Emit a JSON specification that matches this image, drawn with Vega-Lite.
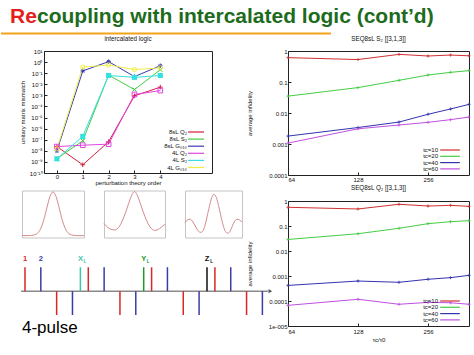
{
  "$schema": "https://vega.github.io/schema/vega-lite/v6.json",
  "background": "white",
  "padding": {"left": 0, "top": 6, "right": 0, "bottom": 0},
  "config": {
    "font": "Liberation Sans",
    "view": {"stroke": null},
    "axis": {"labelFontSize": 6, "titleFontSize": 6, "titleFontWeight": "normal", "labelColor": "#111", "titleColor": "#111", "grid": false, "domain": false, "tickColor": "#222", "tickSize": -3, "labelPadding": 2},
    "title": {"fontSize": 6.3, "fontWeight": "normal", "color": "#111"}
  },
  "datasets": {
    "left": [
      {"order": 0, "v": 2.4e-8, "s": "8sL Q₂"}, {"order": 1, "v": 5.5e-10, "s": "8sL Q₂"}, {"order": 2, "v": 6.6e-8, "s": "8sL Q₂"}, {"order": 3, "v": 9e-4, "s": "8sL Q₂"}, {"order": 4, "v": 5.5e-3, "s": "8sL Q₂"},
      {"order": 0, "v": 2e-9, "s": "8sL S₂"}, {"order": 1, "v": 8e-8, "s": "8sL S₂"}, {"order": 2, "v": 0.068, "s": "8sL S₂"}, {"order": 3, "v": 3.3e-3, "s": "8sL S₂"}, {"order": 4, "v": 0.2, "s": "8sL S₂"},
      {"order": 0, "v": 1e-8, "s": "8sL G₀₁₀"}, {"order": 1, "v": 0.16, "s": "8sL G₀₁₀"}, {"order": 2, "v": 1.1, "s": "8sL G₀₁₀"}, {"order": 3, "v": 0.049, "s": "8sL G₀₁₀"}, {"order": 4, "v": 0.47, "s": "8sL G₀₁₀"},
      {"order": 0, "v": 2.4e-8, "s": "4L Q₂"}, {"order": 1, "v": 3.2e-8, "s": "4L Q₂"}, {"order": 2, "v": 4e-8, "s": "4L Q₂"}, {"order": 3, "v": 1.2e-3, "s": "4L Q₂"}, {"order": 4, "v": 2.7e-3, "s": "4L Q₂"},
      {"order": 0, "v": 1.9e-9, "s": "4L S₂"}, {"order": 1, "v": 2e-7, "s": "4L S₂"}, {"order": 2, "v": 0.062, "s": "4L S₂"}, {"order": 3, "v": 0.042, "s": "4L S₂"}, {"order": 4, "v": 0.062, "s": "4L S₂"},
      {"order": 0, "v": 1.5e-8, "s": "4L G₀₁₀"}, {"order": 1, "v": 0.35, "s": "4L G₀₁₀"}, {"order": 2, "v": 0.55, "s": "4L G₀₁₀"}, {"order": 3, "v": 0.21, "s": "4L G₀₁₀"}, {"order": 4, "v": 0.3, "s": "4L G₀₁₀"}
    ],
    "top": [
      {"n": 64, "v": 0.61, "tc": "tc=10"}, {"n": 128, "v": 0.53, "tc": "tc=10"}, {"n": 192, "v": 0.78, "tc": "tc=10"}, {"n": 256, "v": 0.69, "tc": "tc=10"}, {"n": 320, "v": 0.74, "tc": "tc=10"}, {"n": 384, "v": 0.70, "tc": "tc=10"},
      {"n": 64, "v": 0.035, "tc": "tc=20"}, {"n": 128, "v": 0.066, "tc": "tc=20"}, {"n": 192, "v": 0.113, "tc": "tc=20"}, {"n": 256, "v": 0.168, "tc": "tc=20"}, {"n": 320, "v": 0.205, "tc": "tc=20"}, {"n": 384, "v": 0.232, "tc": "tc=20"},
      {"n": 64, "v": 0.0018, "tc": "tc=40"}, {"n": 128, "v": 0.0034, "tc": "tc=40"}, {"n": 192, "v": 0.0051, "tc": "tc=40"}, {"n": 256, "v": 0.0091, "tc": "tc=40"}, {"n": 320, "v": 0.0135, "tc": "tc=40"}, {"n": 384, "v": 0.019, "tc": "tc=40"},
      {"n": 64, "v": 0.00107, "tc": "tc=60"}, {"n": 128, "v": 0.0031, "tc": "tc=60"}, {"n": 192, "v": 0.0041, "tc": "tc=60"}, {"n": 256, "v": 0.005, "tc": "tc=60"}, {"n": 320, "v": 0.0061, "tc": "tc=60"}, {"n": 384, "v": 0.0074, "tc": "tc=60"}
    ],
    "bottom": [
      {"n": 64, "v": 0.56, "tc": "tc=10"}, {"n": 128, "v": 0.48, "tc": "tc=10"}, {"n": 192, "v": 0.74, "tc": "tc=10"}, {"n": 256, "v": 0.63, "tc": "tc=10"}, {"n": 320, "v": 0.67, "tc": "tc=10"}, {"n": 384, "v": 0.61, "tc": "tc=10"},
      {"n": 64, "v": 0.029, "tc": "tc=20"}, {"n": 128, "v": 0.049, "tc": "tc=20"}, {"n": 192, "v": 0.081, "tc": "tc=20"}, {"n": 256, "v": 0.124, "tc": "tc=20"}, {"n": 320, "v": 0.149, "tc": "tc=20"}, {"n": 384, "v": 0.163, "tc": "tc=20"},
      {"n": 64, "v": 0.00042, "tc": "tc=40"}, {"n": 128, "v": 0.00063, "tc": "tc=40"}, {"n": 192, "v": 0.00056, "tc": "tc=40"}, {"n": 256, "v": 0.00074, "tc": "tc=40"}, {"n": 320, "v": 0.00086, "tc": "tc=40"}, {"n": 384, "v": 0.00106, "tc": "tc=40"},
      {"n": 64, "v": 0.000067, "tc": "tc=60"}, {"n": 128, "v": 0.000117, "tc": "tc=60"}, {"n": 192, "v": 0.000074, "tc": "tc=60"}, {"n": 256, "v": 0.000088, "tc": "tc=60"}, {"n": 320, "v": 0.000085, "tc": "tc=60"}, {"n": 384, "v": 0.000074, "tc": "tc=60"}
    ],
    "shapes": [
      {"p": 1, "x": 0, "y": 0.04}, {"p": 1, "x": 0.1, "y": 0.04}, {"p": 1, "x": 0.2, "y": 0.054}, {"p": 1, "x": 0.25, "y": 0.091}, {"p": 1, "x": 0.3, "y": 0.186}, {"p": 1, "x": 0.35, "y": 0.368}, {"p": 1, "x": 0.4, "y": 0.626}, {"p": 1, "x": 0.45, "y": 0.868}, {"p": 1, "x": 0.5, "y": 0.97}, {"p": 1, "x": 0.55, "y": 0.868}, {"p": 1, "x": 0.6, "y": 0.626}, {"p": 1, "x": 0.65, "y": 0.368}, {"p": 1, "x": 0.7, "y": 0.186}, {"p": 1, "x": 0.75, "y": 0.091}, {"p": 1, "x": 0.8, "y": 0.054}, {"p": 1, "x": 0.9, "y": 0.04}, {"p": 1, "x": 1, "y": 0.04},
      {"p": 2, "x": 0, "y": 0.3}, {"p": 2, "x": 0.04, "y": 0.24}, {"p": 2, "x": 0.09, "y": 0.19}, {"p": 2, "x": 0.17, "y": 0.16}, {"p": 2, "x": 0.23, "y": 0.2}, {"p": 2, "x": 0.28, "y": 0.3}, {"p": 2, "x": 0.33, "y": 0.45}, {"p": 2, "x": 0.38, "y": 0.63}, {"p": 2, "x": 0.43, "y": 0.82}, {"p": 2, "x": 0.47, "y": 0.94}, {"p": 2, "x": 0.5, "y": 0.98}, {"p": 2, "x": 0.53, "y": 0.94}, {"p": 2, "x": 0.57, "y": 0.82}, {"p": 2, "x": 0.62, "y": 0.63}, {"p": 2, "x": 0.67, "y": 0.45}, {"p": 2, "x": 0.72, "y": 0.3}, {"p": 2, "x": 0.77, "y": 0.2}, {"p": 2, "x": 0.83, "y": 0.15}, {"p": 2, "x": 0.91, "y": 0.19}, {"p": 2, "x": 0.96, "y": 0.24}, {"p": 2, "x": 1, "y": 0.28},
      {"p": 3, "x": 0, "y": 0.32}, {"p": 3, "x": 0.04, "y": 0.37}, {"p": 3, "x": 0.09, "y": 0.39}, {"p": 3, "x": 0.14, "y": 0.33}, {"p": 3, "x": 0.2, "y": 0.2}, {"p": 3, "x": 0.25, "y": 0.12}, {"p": 3, "x": 0.28, "y": 0.11}, {"p": 3, "x": 0.32, "y": 0.15}, {"p": 3, "x": 0.37, "y": 0.35}, {"p": 3, "x": 0.42, "y": 0.62}, {"p": 3, "x": 0.47, "y": 0.85}, {"p": 3, "x": 0.51, "y": 0.92}, {"p": 3, "x": 0.55, "y": 0.85}, {"p": 3, "x": 0.6, "y": 0.62}, {"p": 3, "x": 0.65, "y": 0.35}, {"p": 3, "x": 0.7, "y": 0.15}, {"p": 3, "x": 0.75, "y": 0.09}, {"p": 3, "x": 0.79, "y": 0.13}, {"p": 3, "x": 0.85, "y": 0.3}, {"p": 3, "x": 0.91, "y": 0.39}, {"p": 3, "x": 0.96, "y": 0.37}, {"p": 3, "x": 1, "y": 0.33}
    ],
    "pulses": [
      {"t": 0, "lo": 0, "hi": 1, "c": "r", "lab": "1"}, {"t": 1, "lo": 0, "hi": 1, "c": "b", "lab": "2"}, {"t": 2, "lo": -1, "hi": 0, "c": "r"}, {"t": 3, "lo": -1, "hi": 0, "c": "b"},
      {"t": 3.5, "lo": 0, "hi": 1, "c": "x", "lab": "X", "sub": "L"},
      {"t": 4, "lo": 0, "hi": 1, "c": "r"}, {"t": 5, "lo": 0, "hi": 1, "c": "b"}, {"t": 6, "lo": -1, "hi": 0, "c": "r"}, {"t": 7, "lo": -1, "hi": 0, "c": "b"},
      {"t": 7.5, "lo": 0, "hi": 1, "c": "y", "lab": "Y", "sub": "L"},
      {"t": 8, "lo": 0, "hi": 1, "c": "r"}, {"t": 9, "lo": 0, "hi": 1, "c": "b"}, {"t": 10, "lo": -1, "hi": 0, "c": "r"}, {"t": 11, "lo": -1, "hi": 0, "c": "b"},
      {"t": 11.5, "lo": 0, "hi": 1, "c": "z", "lab": "Z", "sub": "L"},
      {"t": 12, "lo": 0, "hi": 1, "c": "r"}, {"t": 13, "lo": 0, "hi": 1, "c": "b"}, {"t": 14, "lo": -1, "hi": 0, "c": "r"}, {"t": 15, "lo": -1, "hi": 0, "c": "b"}
    ]
  },
  "spacing": 0,
  "resolve": {"scale": {"color": "independent"}, "legend": {"color": "independent"}},
  "vconcat": [
    {
      "spacing": 0,
      "hconcat": [
        {"width": 9, "height": 1, "data": {"values": []}, "mark": "point", "encoding": {}},
        {"width": 1, "height": 1, "data": {"values": []}, "mark": "point", "encoding": {},
         "title": {"text": "Re", "color": "#e3201b", "fontSize": 21, "fontWeight": "bold", "anchor": "start", "frame": "group", "offset": 4}},
        {"width": 1, "height": 1, "data": {"values": []}, "mark": "point", "encoding": {},
         "title": {"text": "coupling with intercalated logic (cont’d)", "color": "#1d6b1d", "fontSize": 21, "fontWeight": "bold", "anchor": "start", "frame": "group", "offset": 4}}
      ]
    },
    {
      "width": 330, "height": 1,
      "data": {"values": [{"v": 0}]},
      "mark": {"type": "rule", "color": "#f2a31b", "strokeWidth": 2},
      "encoding": {"y": {"field": "v", "type": "quantitative", "axis": null}}
    },
    {
      "bounds": "flush",
      "spacing": 287,
      "resolve": {"scale": {"color": "independent"}, "legend": {"color": "independent"}},
      "hconcat": [
        {
          "spacing": 2.5,
          "resolve": {"scale": {"color": "independent"}, "legend": {"color": "independent"}},
          "vconcat": [
            {
              "spacing": 0,
              "resolve": {"scale": {"color": "independent"}, "legend": {"color": "independent"}},
              "hconcat": [
                {"width": 17, "height": 1, "data": {"values": []}, "mark": "point", "encoding": {}},
                {
                  "width": 168, "height": 122,
                  "data": {"name": "left"},
                  "title": {"text": "intercalated logic", "offset": 6},
                  "view": {"stroke": "#222"},
                  "encoding": {
                    "x": {"field": "order", "type": "quantitative", "scale": {"domain": [-0.5, 6], "nice": false, "zero": false},
                          "axis": {"values": [0, 1, 2, 3, 4], "format": "d", "title": "perturbation theory order", "labelPadding": 3, "titlePadding": 0}},
                    "y": {"field": "v", "type": "quantitative", "scale": {"type": "log", "domain": [1e-10, 10]},
                          "axis": {"values": [1e-10, 1e-9, 1e-8, 1e-7, 1e-6, 1e-5, 1e-4, 1e-3, 1e-2, 0.1, 1, 10],
                                   "labelExpr": "'10' + ['¹','⁰','⁻¹','⁻²','⁻³','⁻⁴','⁻⁵','⁻⁶','⁻⁷','⁻⁸','⁻⁹','⁻¹⁰'][1 - round(log(datum.value) / LN10)]",
                                   "title": "unitary matrix mismatch", "titlePadding": 4, "labelPadding": 5}},
                    "color": {"field": "s", "type": "nominal",
                              "scale": {"domain": ["8sL Q₂", "8sL S₂", "8sL G₀₁₀", "4L Q₂", "4L S₂", "4L G₀₁₀"], "range": ["#d42040", "#44cc44", "#3a3ab8", "#e045e0", "#35e0e0", "#eeee44"]},
                              "legend": {"title": null, "orient": "none", "legendX": 149, "legendY": 78, "padding": 0, "symbolType": "M-3.6,0L3.6,0", "symbolSize": 20, "symbolStrokeWidth": 1.2, "labelAlign": "right", "labelOffset": -12, "labelFontSize": 6, "rowPadding": 1.1, "labelColor": "#111"}}
                  },
                  "layer": [
                    {"mark": {"type": "line", "strokeWidth": 1}},
                    {"transform": [{"filter": "datum.s === '8sL Q₂'"}], "mark": {"type": "point", "shape": "M-1,0L1,0M0,-1L0,1", "filled": false, "strokeWidth": 1, "size": 22, "opacity": 1}},
                    {"transform": [{"filter": "datum.s === '8sL S₂'"}], "mark": {"type": "point", "shape": "M-1,-1L1,1M-1,1L1,-1", "filled": false, "strokeWidth": 1, "size": 16, "opacity": 1}},
                    {"transform": [{"filter": "datum.s === '8sL G₀₁₀'"}], "mark": {"type": "point", "shape": "M-1,0L1,0M0,-1L0,1M-0.7,-0.7L0.7,0.7M-0.7,0.7L0.7,-0.7", "filled": false, "strokeWidth": 1, "size": 20, "opacity": 1}},
                    {"transform": [{"filter": "datum.s === '4L Q₂'"}], "mark": {"type": "point", "shape": "square", "filled": false, "strokeWidth": 1, "size": 22, "opacity": 1}},
                    {"transform": [{"filter": "datum.s === '4L S₂'"}], "mark": {"type": "point", "shape": "square", "filled": true, "size": 26, "opacity": 1}},
                    {"transform": [{"filter": "datum.s === '4L G₀₁₀'"}], "mark": {"type": "point", "shape": "circle", "filled": false, "strokeWidth": 1, "size": 18, "opacity": 1}}
                  ]
                }
              ]
            },
            {
              "spacing": 20,
              "bounds": "flush",
              "hconcat": [
                {"width": 1, "height": 1, "data": {"values": []}, "mark": "point", "encoding": {}},
                {
                  "width": 62, "height": 47, "data": {"name": "shapes"}, "transform": [{"filter": "datum.p === 1"}],
                  "view": {"stroke": "#c4c4c4"},
                  "mark": {"type": "line", "color": "#d48a8a", "strokeWidth": 1, "interpolate": "monotone"},
                  "encoding": {
                    "x": {"field": "x", "type": "quantitative", "scale": {"domain": [0, 1], "nice": false}, "axis": null},
                    "y": {"field": "y", "type": "quantitative", "scale": {"domain": [0, 1], "nice": false}, "axis": null}
                  }
                },
                {
                  "width": 61, "height": 47, "data": {"name": "shapes"}, "transform": [{"filter": "datum.p === 2"}],
                  "view": {"stroke": "#c4c4c4"},
                  "mark": {"type": "line", "color": "#d48a8a", "strokeWidth": 1, "interpolate": "monotone"},
                  "encoding": {
                    "x": {"field": "x", "type": "quantitative", "scale": {"domain": [0, 1], "nice": false}, "axis": null},
                    "y": {"field": "y", "type": "quantitative", "scale": {"domain": [0, 1], "nice": false}, "axis": null}
                  }
                },
                {
                  "width": 57, "height": 47, "data": {"name": "shapes"}, "transform": [{"filter": "datum.p === 3"}],
                  "view": {"stroke": "#c4c4c4"},
                  "mark": {"type": "line", "color": "#d48a8a", "strokeWidth": 1, "interpolate": "monotone"},
                  "encoding": {
                    "x": {"field": "x", "type": "quantitative", "scale": {"domain": [0, 1], "nice": false}, "axis": null},
                    "y": {"field": "y", "type": "quantitative", "scale": {"domain": [0, 1], "nice": false}, "axis": null}
                  }
                }
              ]
            },
            {
              "width": 272, "height": 74,
              "title": {"text": "4-pulse", "orient": "bottom", "anchor": "start", "frame": "group", "baseline": "top", "fontSize": 17, "fontWeight": "normal", "color": "#000", "offset": 4, "dx": 21},
              "layer": [
                {"data": {"values": [{"a": -0.25, "b": 15.35, "y": 0}]}, "mark": {"type": "rule", "color": "#8a8a8a", "strokeWidth": 1.5},
                 "encoding": {
                   "x": {"field": "a", "type": "quantitative", "scale": {"domain": [-1.516, 15.67], "nice": false, "zero": false}, "axis": null},
                   "x2": {"field": "b"},
                   "y": {"field": "y", "type": "quantitative", "scale": {"domain": [-1, 2.1], "nice": false, "zero": false}, "axis": null}}},
                {"data": {"name": "pulses"}, "mark": {"type": "rule", "strokeWidth": 1.5},
                 "encoding": {
                   "x": {"field": "t", "type": "quantitative"},
                   "y": {"field": "lo", "type": "quantitative"},
                   "y2": {"field": "hi"},
                   "color": {"field": "c", "type": "nominal", "legend": null, "scale": {"domain": ["r", "b", "x", "y", "z"], "range": ["#d62828", "#3b3ba8", "#3cc8a8", "#229922", "#111111"]}}}},
                {"data": {"values": [{"t": 15.5, "y": 0}]}, "mark": {"type": "point", "shape": "triangle-right", "filled": true, "color": "#555", "size": 18, "opacity": 1},
                 "encoding": {"x": {"field": "t", "type": "quantitative"}, "y": {"field": "y", "type": "quantitative"}}},
                {"data": {"name": "pulses"}, "transform": [{"filter": "isValid(datum.lab)"}],
                 "mark": {"type": "text", "fontWeight": "bold", "fontSize": 7.5, "dy": -8},
                 "encoding": {
                   "x": {"field": "t", "type": "quantitative"},
                   "y": {"field": "hi", "type": "quantitative"},
                   "text": {"field": "lab"},
                   "color": {"field": "c", "type": "nominal", "legend": null}}},
                {"data": {"name": "pulses"}, "transform": [{"filter": "isValid(datum.sub)"}],
                 "mark": {"type": "text", "fontWeight": "bold", "fontSize": 4.5, "dx": 4.5, "dy": -5.5},
                 "encoding": {
                   "x": {"field": "t", "type": "quantitative"},
                   "y": {"field": "hi", "type": "quantitative"},
                   "text": {"field": "sub"},
                   "color": {"field": "c", "type": "nominal", "legend": null}}}
              ]
            }
          ]
        },
        {
          "spacing": 1,
          "resolve": {"scale": {"color": "independent"}, "legend": {"color": "independent"}},
          "vconcat": [
            {
              "width": 181, "height": 124,
              "data": {"name": "top"},
              "title": {"text": "SEQ8sL S₂ [[3,1,3]]", "offset": 6},
              "view": {"stroke": "#222"},
              "encoding": {
                "x": {"field": "n", "type": "quantitative", "scale": {"type": "log", "base": 2, "domain": [64, 384], "nice": false}, "axis": {"values": [64, 128, 256], "title": null, "labelPadding": 4}},
                "y": {"field": "v", "type": "quantitative", "scale": {"type": "log", "domain": [0.0001, 1]}, "axis": {"values": [0.0001, 0.001, 0.01, 0.1, 1], "format": "~g", "title": "average infidelity", "titlePadding": 16, "labelPadding": 4}},
                "color": {"field": "tc", "type": "nominal", "scale": {"domain": ["tc=10", "tc=20", "tc=40", "tc=60"], "range": ["#d03030", "#44cc44", "#3333b0", "#c050e0"]},
                          "legend": {"title": null, "orient": "none", "legendX": 159, "legendY": 96, "padding": 0, "symbolType": "M-4.4,0L4.4,0", "symbolSize": 20, "symbolStrokeWidth": 1.2, "labelAlign": "right", "labelOffset": -15, "labelFontSize": 6, "rowPadding": 0.3, "labelColor": "#111"}}
              },
              "layer": [
                {"mark": {"type": "line", "strokeWidth": 1}},
                {"mark": {"type": "point", "shape": "M-1,0L1,0M0,-1L0,1", "filled": false, "size": 10, "strokeWidth": 0.8, "opacity": 1}}
              ]
            },
            {
              "width": 181, "height": 125,
              "data": {"name": "bottom"},
              "title": {"text": "SEQ8sL Q₂ [[3,1,3]]", "offset": 7},
              "view": {"stroke": "#222"},
              "encoding": {
                "x": {"field": "n", "type": "quantitative", "scale": {"type": "log", "base": 2, "domain": [64, 384], "nice": false}, "axis": {"values": [64, 128, 256], "title": "τc/τ0", "labelPadding": 5, "titlePadding": 2}},
                "y": {"field": "v", "type": "quantitative", "scale": {"type": "log", "domain": [0.00001, 1]}, "axis": {"values": [0.00001, 0.0001, 0.001, 0.01, 0.1, 1], "labelExpr": "datum.value < 0.00005 ? '1e-005' : format(datum.value, '~g')", "title": "average infidelity", "titlePadding": 16, "labelPadding": 4}},
                "color": {"field": "tc", "type": "nominal", "scale": {"domain": ["tc=10", "tc=20", "tc=40", "tc=60"], "range": ["#d03030", "#44cc44", "#3333b0", "#c050e0"]},
                          "legend": {"title": null, "orient": "none", "legendX": 159, "legendY": 97, "padding": 0, "symbolType": "M-4.4,0L4.4,0", "symbolSize": 20, "symbolStrokeWidth": 1.2, "labelAlign": "right", "labelOffset": -15, "labelFontSize": 6, "rowPadding": 0.3, "labelColor": "#111"}}
              },
              "layer": [
                {"mark": {"type": "line", "strokeWidth": 1}},
                {"mark": {"type": "point", "shape": "M-1,0L1,0M0,-1L0,1", "filled": false, "size": 10, "strokeWidth": 0.8, "opacity": 1}}
              ]
            }
          ]
        }
      ]
    }
  ]
}
